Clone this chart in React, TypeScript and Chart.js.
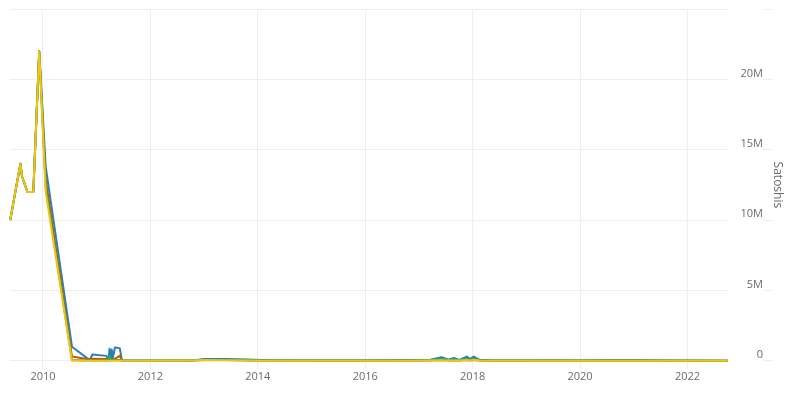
import React, { useEffect, useRef } from 'react';
import { Chart, registerables } from 'chart.js';

Chart.register(...registerables);

// decimal years shared by every series
const years = [
  2009.39, 2009.58, 2009.61, 2009.71, 2009.82, 2009.93, 2010.05, 2010.54, 2010.87, 2010.92,
  2011.18, 2011.22, 2011.24, 2011.26, 2011.28, 2011.3, 2011.34, 2011.43, 2011.47, 2012.0,
  2012.8, 2013.0, 2013.4, 2013.8, 2014.2, 2015.0, 2016.0, 2016.8, 2017.2, 2017.42,
  2017.55, 2017.65, 2017.75, 2017.89, 2017.95, 2018.02, 2018.12, 2018.4, 2019.0, 2019.5,
  2020.0, 2020.83, 2021.5, 2022.75,
];

// values in millions of satoshis
const blueValues = [
  10, 14, 13.1, 12, 12, 22, 13.8, 1.0, 0.05, 0.45,
  0.35, 0.05, 0.85, 0.1, 0.8, 0.2, 0.95, 0.9, 0.02, 0.02,
  0.03, 0.12, 0.13, 0.1, 0.04, 0.02, 0.03, 0.04, 0.06, 0.25,
  0.08, 0.2, 0.06, 0.3, 0.12, 0.3, 0.08, 0.03, 0.02, 0.03,
  0.02, 0.06, 0.02, 0,
];
const redValues = [
  10, 14, 13.1, 12, 12, 22, 12.9, 0.3, 0.1, 0.15,
  0.12, 0.05, 0.2, 0.1, 0.15, 0.1, 0.15, 0.35, 0.02, 0.01,
  0.02, 0.05, 0.05, 0.03, 0.02, 0.01, 0.01, 0.02, 0.02, 0.05,
  0.03, 0.04, 0.02, 0.06, 0.03, 0.05, 0.02, 0.01, 0.01, 0.01,
  0.01, 0.01, 0.01, 0,
];
const greenValues = [
  10, 14, 13.1, 12, 12, 22, 12.4, 0.05, 0.02, 0.02,
  0.02, 0.02, 0.3, 0.05, 0.05, 0.05, 0.05, 0.05, 0.02, 0.01,
  0.04, 0.08, 0.06, 0.05, 0.03, 0.02, 0.03, 0.04, 0.05, 0.12,
  0.06, 0.1, 0.04, 0.15, 0.06, 0.15, 0.04, 0.02, 0.02, 0.04,
  0.03, 0.05, 0.03, 0,
];
const yellowValues = [
  10, 14, 13.1, 12, 12, 22, 12.0, 0, 0, 0,
  0, 0, 0, 0, 0, 0, 0, 0, 0, 0,
  0.03, 0.05, 0.04, 0.02, 0.01, 0.01, 0.01, 0.01, 0.02, 0.04,
  0.02, 0.03, 0.02, 0.05, 0.02, 0.08, 0.02, 0.01, 0.01, 0.01,
  0.01, 0.01, 0.01, 0,
];

const yTicks = [0, 5, 10, 15, 20, 25];

const GRID = '#eeeeee';
const TEXT = '#6b6b6b';

const toPoints = (vals: number[]) => years.map((x, i) => ({ x, y: vals[i] }));

export default function App() {
  const canvasRef = useRef<HTMLCanvasElement>(null);

  useEffect(() => {
    document.body.style.margin = '0';
    const ctx = canvasRef.current?.getContext('2d');
    if (!ctx) return;

    Chart.defaults.font.family = '"Open Sans", sans-serif';
    Chart.defaults.font.size = 11;
    Chart.defaults.color = TEXT;

    const line = (data: number[], color: string) => ({
      data: toPoints(data),
      borderColor: color,
      backgroundColor: color,
      borderWidth: 2,
      borderJoinStyle: 'round' as const,
      pointRadius: 0,
      tension: 0,
      clip: 3,
    });

    // fixed widths for the two right-hand axes, no extra label padding on top
    const fixWidth = (w: number) => (s: any) => {
      s.width = w;
      s.paddingTop = 0;
      s.paddingBottom = 0;
    };

    const chart = new Chart(ctx, {
      type: 'line',
      data: {
        datasets: [
          line(yellowValues, '#f1c40f'),
          line(greenValues, '#27ae60'),
          line(redValues, '#d35400'),
          line(blueValues, '#2980b9'),
        ],
      },
      options: {
        animation: false,
        responsive: true,
        maintainAspectRatio: false,
        layout: { padding: { left: 10, top: 9, right: 15, bottom: 16 } },
        plugins: { legend: { display: false }, tooltip: { enabled: false } },
        scales: {
          x: {
            type: 'linear',
            min: 2009.386,
            max: 2022.754,
            border: { display: false },
            grid: { color: GRID, drawTicks: true, tickLength: 8 },
            ticks: {
              stepSize: 2,
              includeBounds: false,
              maxRotation: 0,
              padding: 1,
              callback: (v) => String(v),
            },
          },
          y: {
            position: 'right',
            min: yTicks[0],
            max: yTicks[yTicks.length - 1],
            border: { display: false },
            grid: { color: GRID, drawTicks: false },
            afterFit: fixWidth(35),
            ticks: {
              stepSize: 5,
              padding: 12,
              crossAlign: 'far',
              labelOffset: -6,
              callback: (v) => (v === 0 ? '0' : Number(v) >= 25 ? '' : `${v}M`),
            },
          },
          y2: {
            position: 'right',
            min: yTicks[0],
            max: yTicks[yTicks.length - 1],
            border: { display: false },
            grid: { color: GRID, drawOnChartArea: false, drawTicks: true, tickLength: 10 },
            afterFit: fixWidth(22),
            ticks: { stepSize: 5, display: false },
            title: {
              display: true,
              text: 'Satoshis',
              font: { size: 12 },
              padding: { top: 0, bottom: 0 },
            },
          },
        },
      },
    });

    return () => {
      chart.destroy();
    };
  }, []);

  return (
    <div style={{ position: 'relative', width: 800, height: 400 }}>
      <canvas ref={canvasRef}></canvas>
    </div>
  );
}
